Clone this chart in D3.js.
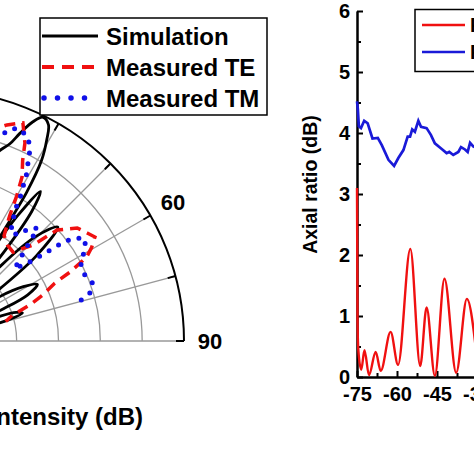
<!DOCTYPE html>
<html>
<head>
<meta charset="utf-8">
<script src="https://cdn.jsdelivr.net/npm/d3@7"></script>
<style>
  body { margin: 0; background: #fff; }
  svg { display: block; font-family: "Liberation Sans", Arial, sans-serif; font-weight: bold; }
</style>
</head>
<body>
<script>

// data

// polar pattern: angle (deg, 0 = broadside) and normalized intensity (dB)
const simAngle = [10, 13, 15, 17, 19.3, 21.3, 22.7, 24.5, 26.2, 28.1, 29.5, 31, 32.2, 33, 34, 35.7, 37.3, 38.5, 40, 42, 44.5, 47.6, 50.5, 52, 54, 56, 59, 61.5, 64, 65.5, 67.5, 69.5, 71, 72.7, 74.3, 75.5, 78, 80.5, 83, 85.5, 88, 90];
const simDb = [-16, -12, -10, -8, -5.9, -4.7, -3.1, -1.2, -0.2, -0.7, -2.4, -4.8, -9, -16, -12, -8, -10.5, -16, -28, -18, -12.5, -9.8, -14, -20, -28, -21, -17.4, -15.8, -17.4, -21, -28, -22, -19.5, -18.8, -20.5, -25, -28, -25, -22.5, -24.5, -28, -30];

const teAngle = [12, 15, 18.9, 22.4, 24.9, 26.4, 28.5, 30, 31.5, 34, 38, 42, 46.2, 48.2, 51.9, 55, 57.3, 59.5, 61.4, 63.3, 64.6, 67.3, 69.6, 72, 75];
const teDb = [-6, -4, -2.7, -1.8, -3.9, -5.9, -7.7, -10, -12.5, -14.8, -15.5, -15.7, -13.4, -10.1, -8.1, -7.5, -7, -8, -9.1, -11.7, -13.9, -15.8, -17.7, -20, -21];

const tmAngle = [12, 15, 18.2, 19.6, 21.8, 25, 26.9, 28.1, 29.2, 30.3, 31.3, 32, 33.9, 35.5, 38.7, 40.6, 42.9, 45.3, 48.5, 50.8, 51.7, 52.8, 53.7, 56.1, 59.1, 61.7, 65.6, 70.1, 73, 74.8];
const tmDb = [-8, -6, -4.3, -3.2, -2.6, -3.1, -4.4, -5.9, -7, -8.7, -10, -11.5, -12.9, -14.1, -13.7, -12.2, -11.6, -14.5, -17, -15, -13.4, -10.6, -9.2, -8.1, -8.8, -10, -10.3, -9.7, -10.4, -11.8];

const ringDb = [-25, -20, -15, -10, -5];
const spokeAngles = [-90, -75, -60, -45, -30, -15, 0, 15, 30, 45, 60, 75, 90];
const angleLabels = [30, 60, 90];

const polarLegend = ["Simulation", "Measured TE", "Measured TM"];

// axial ratio vs angle
const redTheta = [-75, -74.8, -74.5, -73.4, -72.2, -70.5, -68, -66.1, -62.4, -59.6, -55, -51.3, -48.9, -45.8, -42.2, -37.8, -33.8, -30];
const redAR = [3.1, 0.9, 0.44, 0.12, 0.44, 0.03, 0.41, 0.1, 0.74, 0.2, 2.1, 0.18, 1.14, 0.02, 1.61, 0.07, 1.28, 0.3];

const blueTheta = [-75, -74.7, -74.3, -73.5, -72.3, -71, -69.2, -67.2, -65.7, -63.2, -61.1, -59.5, -57.6, -56, -55.1, -54.3, -53.3, -52, -51, -48.9, -47.3, -45.8, -43, -41.4, -40.4, -38.9, -37, -36, -34.5, -33.5, -32.6, -31.4, -30];
const blueAR = [4.52, 4.4, 4.11, 4.08, 4.2, 4.16, 3.91, 3.92, 3.8, 3.56, 3.46, 3.59, 3.72, 3.94, 3.94, 4.06, 4.02, 4.2, 4.1, 4.08, 3.97, 3.83, 3.73, 3.67, 3.69, 3.64, 3.69, 3.77, 3.73, 3.69, 3.84, 3.78, 3.75];

const xTicks = [-75, -60, -45, -30, -15, 0];
const yTicks = [0, 1, 2, 3, 4, 5, 6];
const arLegend = ["Port 1", "Port 2"];

// constants

const width = 474;
const height = 474;

const svg = d3.select("body").append("svg")
  .attr("width", width)
  .attr("height", height);

// ---------- polar plot ----------

const cx = -67, cy = 341, R = 251;

const rScale = d3.scaleLinear().domain([-30, 0]).range([0, R]);
const aScale = d3.scaleLinear().domain([-90, 90]).range([-Math.PI / 2, Math.PI / 2]);

const polar = svg.append("g").attr("transform", `translate(${cx},${cy})`);

const halfArc = d3.arc()
  .startAngle(-Math.PI / 2)
  .endAngle(Math.PI / 2);

// rings
polar.selectAll(".ring")
  .data(ringDb)
  .join("path")
  .attr("class", "ring")
  .attr("d", d => halfArc({innerRadius: rScale(d), outerRadius: rScale(d)}))
  .attr("fill", "none")
  .attr("stroke", "#999")
  .attr("stroke-width", 1.3);

// spokes
polar.selectAll(".spoke")
  .data(spokeAngles)
  .join("line")
  .attr("class", "spoke")
  .attr("x1", 0).attr("y1", 0)
  .attr("x2", d => R * Math.sin(aScale(d)))
  .attr("y2", d => -R * Math.cos(aScale(d)))
  .attr("stroke", "#999")
  .attr("stroke-width", 1.3);

// curves
const radial = d3.lineRadial()
  .angle(d => aScale(d[0]))
  .radius(d => rScale(d[1]));

polar.append("path")
  .datum(d3.zip(simAngle, simDb))
  .attr("d", radial.curve(d3.curveCatmullRom.alpha(0.5)))
  .attr("fill", "none")
  .attr("stroke", "#000")
  .attr("stroke-width", 2.8);

polar.append("path")
  .datum(d3.zip(teAngle, teDb))
  .attr("d", radial.curve(d3.curveLinear))
  .attr("fill", "none")
  .attr("stroke", "#f01010")
  .attr("stroke-width", 3.5)
  .attr("stroke-dasharray", "11 7");

polar.append("path")
  .datum(d3.zip(tmAngle, tmDb))
  .attr("d", radial.curve(d3.curveLinear))
  .attr("fill", "none")
  .attr("stroke", "#1010e8")
  .attr("stroke-width", 5)
  .attr("stroke-linecap", "round")
  .attr("stroke-dasharray", "0 11");

// outer circle
polar.append("path")
  .attr("d", halfArc({innerRadius: R, outerRadius: R}))
  .attr("fill", "none")
  .attr("stroke", "#000")
  .attr("stroke-width", 2);

// ticks on outer circle
polar.selectAll(".atick")
  .data(spokeAngles)
  .join("line")
  .attr("class", "atick")
  .attr("x1", d => (R - 8) * Math.sin(aScale(d)))
  .attr("y1", d => -(R - 8) * Math.cos(aScale(d)))
  .attr("x2", d => R * Math.sin(aScale(d)))
  .attr("y2", d => -R * Math.cos(aScale(d)))
  .attr("stroke", "#000")
  .attr("stroke-width", 2);

polar.selectAll(".alabel")
  .data(angleLabels)
  .join("text")
  .attr("class", "alabel")
  .attr("x", d => (R + 26) * Math.sin(aScale(d)))
  .attr("y", d => -(R + 26) * Math.cos(aScale(d)))
  .attr("text-anchor", "middle")
  .attr("dominant-baseline", "central")
  .attr("font-size", 22)
  .text(d => Math.abs(d));

svg.append("text")
  .attr("x", 143)
  .attr("y", 425)
  .attr("text-anchor", "end")
  .attr("font-size", 24)
  .text("Normalized intensity (dB)");

// polar legend
const leg1 = svg.append("g");
leg1.append("rect")
  .attr("x", 40).attr("y", 18)
  .attr("width", 227).attr("height", 97)
  .attr("fill", "#fff")
  .attr("stroke", "#000")
  .attr("stroke-width", 1.5);

const legStyles = [
  {stroke: "#000", w: 3, dash: null, cap: "butt"},
  {stroke: "#f01010", w: 4, dash: "12 8", cap: "butt"},
  {stroke: "#1010e8", w: 5.5, dash: "0 13.5", cap: "round"}
];

polarLegend.forEach((name, i) => {
  const y = 36 + i * 31;
  const s = legStyles[i];
  leg1.append("line")
    .attr("x1", i === 2 ? 44 : 42).attr("x2", 98)
    .attr("y1", y).attr("y2", y)
    .attr("stroke", s.stroke)
    .attr("stroke-width", s.w)
    .attr("stroke-linecap", s.cap)
    .attr("stroke-dasharray", s.dash);
  leg1.append("text")
    .attr("x", 106)
    .attr("y", y + 8.5)
    .attr("font-size", 24)
    .text(name);
});

// ---------- axial ratio plot ----------

const xScale = d3.scaleLinear().domain([-75, 0]).range([357, 357 + 75 * 40 / 15]);
const yScale = d3.scaleLinear().domain([0, 6]).range([377, 11]);

const xAxis = d3.axisBottom(xScale)
  .tickValues(xTicks)
  .tickSize(-6)
  .tickSizeOuter(0)
  .tickPadding(10)
  .tickFormat(d => String(d));

const yAxis = d3.axisLeft(yScale)
  .tickValues(yTicks)
  .tickSize(-6)
  .tickSizeOuter(0)
  .tickPadding(7)
  .tickFormat(d => String(d));

const xMinor = d3.axisBottom(xScale)
  .tickValues(xTicks.slice(0, -1).map(d => d + 7.5))
  .tickSize(-4)
  .tickSizeOuter(0)
  .tickFormat("");

const yMinor = d3.axisLeft(yScale)
  .tickValues(yTicks.slice(0, -1).map(d => d + 0.5))
  .tickSize(-4)
  .tickSizeOuter(0)
  .tickFormat("");

[xMinor, xAxis].forEach(ax => {
  svg.append("g")
    .attr("transform", `translate(0,${yScale(0)})`)
    .call(ax);
});
[yMinor, yAxis].forEach(ax => {
  svg.append("g")
    .attr("transform", `translate(${xScale(-75)},0)`)
    .call(ax);
});

svg.selectAll(".domain").attr("stroke", "#000").attr("stroke-width", 2);
svg.selectAll(".tick line").attr("stroke", "#000").attr("stroke-width", 2);
svg.selectAll(".tick text")
  .attr("font-family", "'Liberation Sans', Arial, sans-serif")
  .attr("font-weight", "bold")
  .attr("font-size", 20)
  .attr("fill", "#000");

// lines drawn over the axes, as in the reference
const lineGen = d3.line()
  .x(d => xScale(d[0]))
  .y(d => yScale(d[1]));

svg.append("path")
  .datum(d3.zip(redTheta, redAR))
  .attr("d", lineGen.curve(d3.curveMonotoneX))
  .attr("fill", "none")
  .attr("stroke", "#f01010")
  .attr("stroke-width", 2.4);

svg.append("path")
  .datum(d3.zip(blueTheta, blueAR))
  .attr("d", lineGen.curve(d3.curveLinear))
  .attr("fill", "none")
  .attr("stroke", "#1a1ad8")
  .attr("stroke-width", 2.7);

svg.append("text")
  .attr("transform", "translate(317,184.5) rotate(-90)")
  .attr("text-anchor", "middle")
  .attr("font-size", 19.5)
  .text("Axial ratio (dB)");

// axial ratio legend
const leg2 = svg.append("g");
leg2.append("rect")
  .attr("x", 415).attr("y", 9.5)
  .attr("width", 120).attr("height", 62)
  .attr("fill", "#fff")
  .attr("stroke", "#000")
  .attr("stroke-width", 1.5);

const arColors = ["#f01010", "#1a1ad8"];
arLegend.forEach((name, i) => {
  const y = 25 + i * 27;
  leg2.append("line")
    .attr("x1", 422).attr("x2", 465)
    .attr("y1", y).attr("y2", y)
    .attr("stroke", arColors[i])
    .attr("stroke-width", 2.5);
  leg2.append("text")
    .attr("x", 470)
    .attr("y", y + 7)
    .attr("font-size", 20)
    .text(name);
});

</script>
</body>
</html>
